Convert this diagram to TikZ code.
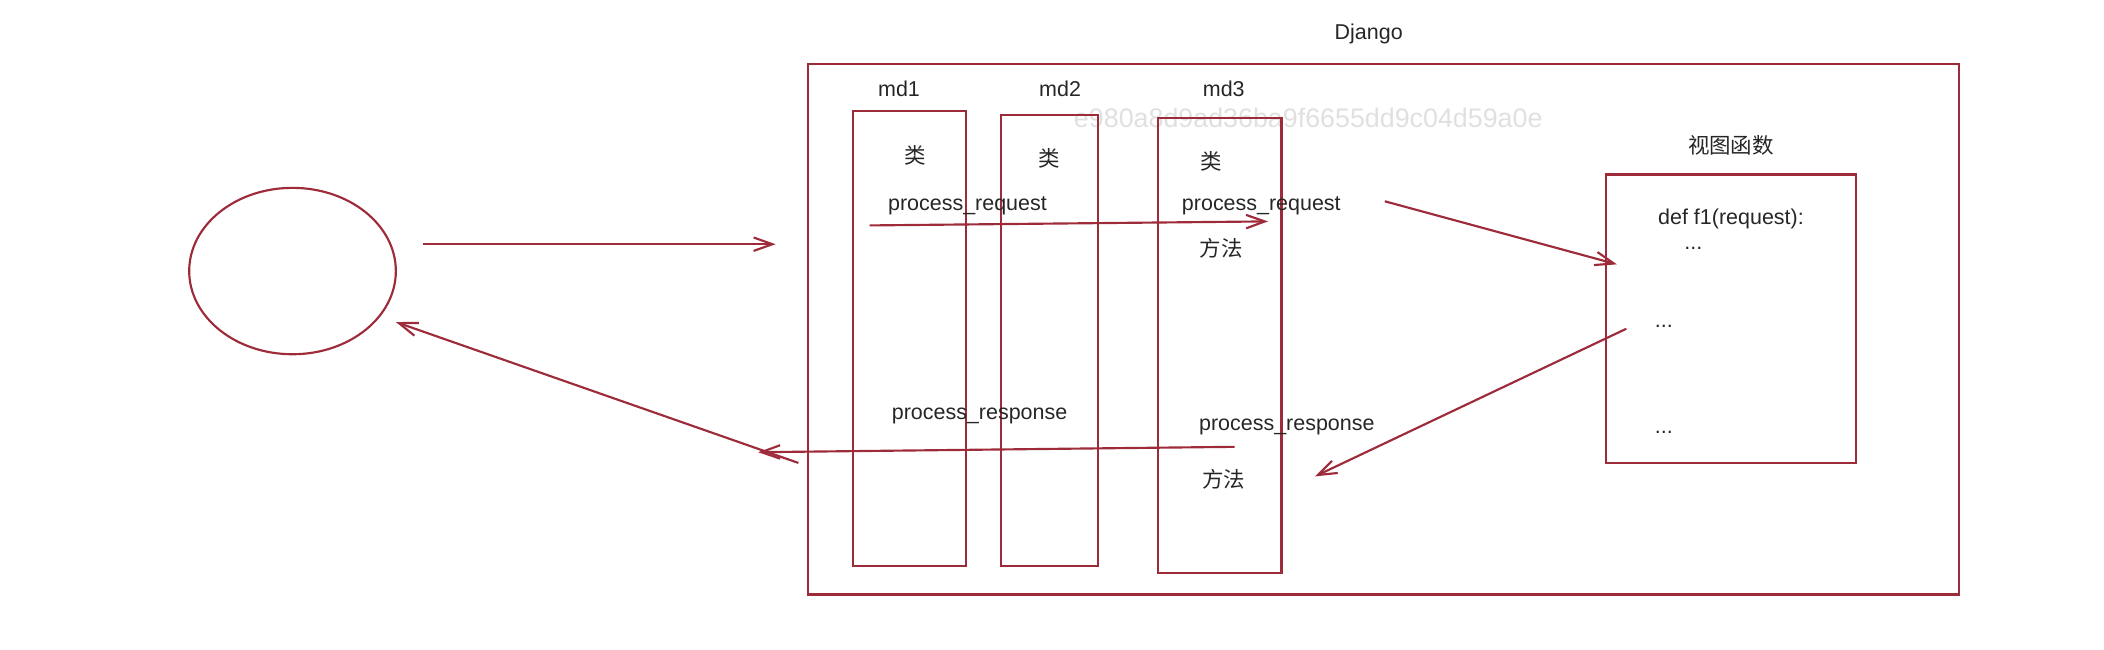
\documentclass[tikz,border=0pt]{standalone}
\usepackage{fontspec}
\setmainfont{Liberation Sans}
\newfontfamily\cjk{Noto Sans CJK SC}
\usetikzlibrary{arrows.meta}
\definecolor{ink}{HTML}{9E2B3A}
\begin{document}
\begin{tikzpicture}[x=1pt, y=-1pt, every node/.style={font=\fontsize{16}{19}\selectfont, text=black!85}]
  \tikzset{box/.style={draw=ink, line width=1.6pt}, arr/.style={draw=ink, line width=1.6pt, -{Straight Barb[length=14pt, width=10pt]}}}
  \useasboundingbox (0,0) rectangle (1568,484);
  \node[text=black!12, font=\fontsize{20}{22}\selectfont] (wm) at (975,88) {e980a8d9ad36ba9f6655dd9c04d59a0e};

  \draw[box] (218,202) ellipse (77 and 62);
  \draw[box] (602,48) rectangle (1460,443);
  \draw[box] (636,83) rectangle (720,422);
  \draw[box] (746,86) rectangle (818,422);
  \draw[box] (863,88) rectangle (955,427);
  \draw[box] (1197,130) rectangle (1383,345);

  \node (dj) at (1020,25) {Django};
  \node (m1) at (670,66) {md1};
  \node (m2) at (790,66) {md2};
  \node (m3) at (912,66) {md3};
  \node[font=\cjk\fontsize{16}{19}\selectfont] (k1) at (682,116) {类};
  \node[font=\cjk\fontsize{16}{19}\selectfont] (k2) at (782,118) {类};
  \node[font=\cjk\fontsize{16}{19}\selectfont] (k3) at (903,120) {类};
  \node (pq1) at (721,153) {process\_request};
  \node (pq3) at (940,153) {process\_request};
  \node[font=\cjk\fontsize{16}{19}\selectfont] (f1) at (910,185) {方法};
  \node (pr1) at (730,310) {process\_response};
  \node (pr3) at (959,318) {process\_response};
  \node[font=\cjk\fontsize{16}{19}\selectfont] (f3) at (912,357) {方法};

  \node[font=\cjk\fontsize{16}{19}\selectfont] (vf) at (1290,108) {视图函数};
  \node (def) at (1290,163) {def f1(request):};
  \node (d1) at (1262,185) {...};
  \node (d2) at (1240,243) {...};
  \node (d3) at (1240,322) {...};

  \coordinate (a1) at (315,182); \coordinate (a2) at (578,182);
  \coordinate (b1) at (648,168); \coordinate (b2) at (945,165);
  \coordinate (v1) at (1032,150); \coordinate (v2) at (1205,197);
  \coordinate (w1) at (1212,245); \coordinate (w2) at (980,355);
  \coordinate (r1) at (920,333); \coordinate (r2) at (565,337);
  \coordinate (s1) at (595,345); \coordinate (s2) at (295,240);
  \draw[arr] (a1) -- (a2);
  \draw[arr] (b1) -- (b2);
  \draw[arr] (v1) -- (v2);
  \draw[arr] (w1) -- (w2);
  \draw[arr] (r1) -- (r2);
  \draw[arr] (s1) -- (s2);
\end{tikzpicture}
\end{document}
